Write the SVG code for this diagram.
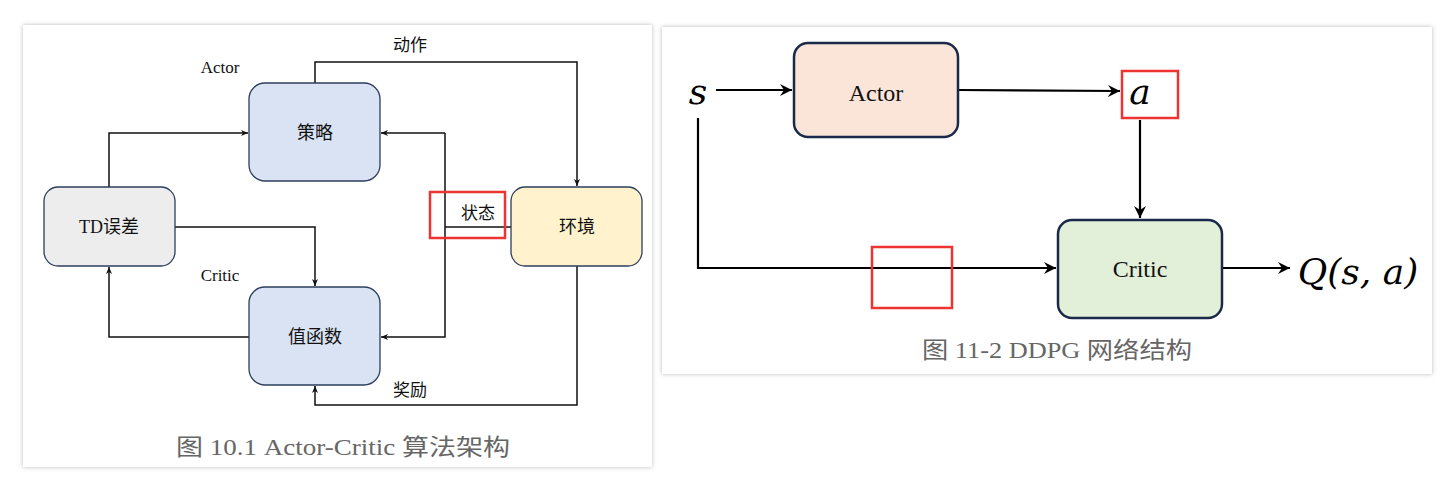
<svg xmlns="http://www.w3.org/2000/svg" width="1440" height="479" viewBox="0 0 1440 479">
<defs>
<marker id="ah" markerWidth="8" markerHeight="8" refX="7" refY="4" orient="auto" markerUnits="userSpaceOnUse"><path d="M0,1 L7,4 L0,7 L2,4 Z" fill="#111"/></marker>
<marker id="ah2" markerWidth="14" markerHeight="14" refX="12" refY="7" orient="auto" markerUnits="userSpaceOnUse"><path d="M0,1 L12,7 L0,13 L4,7 Z" fill="#000"/></marker>
<filter id="sh" x="-5%" y="-5%" width="110%" height="110%"><feDropShadow dx="0" dy="0" stdDeviation="2" flood-color="#888" flood-opacity="0.6"/></filter>
</defs>
<style>
.t{font-family:"Liberation Serif","Noto Sans CJK SC",serif;fill:#111}
.n1{stroke:#2c3e5c;stroke-width:1.3}
.n2{stroke:#1b2a4a;stroke-width:2.5}
.c1{fill:none;stroke:#111;stroke-width:1.5}
.c2{fill:none;stroke:#000;stroke-width:2.2}
.red{fill:none;stroke:#ee3333;stroke-width:2.5}
.cap{font-family:"Liberation Serif","Noto Sans CJK SC",serif;fill:#666;font-size:23px}
.m{font-family:"DejaVu Serif","Liberation Serif",serif;font-style:italic;fill:#000}
</style>
<rect width="1440" height="479" fill="#fff"/>
<rect x="23" y="25" width="629" height="442" fill="#fff" filter="url(#sh)"/>
<rect x="662" y="27" width="770" height="347" fill="#fff" filter="url(#sh)"/>
<g id="connectors">
<polyline class="c1" points="315,83 315,62 577,62 577,186" marker-end="url(#ah)"/>
<polyline class="c1" points="577,266 577,405 315,405 315,386" marker-end="url(#ah)"/>
<line class="c1" x1="511" y1="227" x2="445" y2="227"/>
<polyline class="c1" points="445,133 381,133" marker-end="url(#ah)"/>
<polyline class="c1" points="445,133 445,337 381,337" marker-end="url(#ah)"/>
<polyline class="c1" points="109,187 109,133 248,133" marker-end="url(#ah)"/>
<polyline class="c1" points="175,227 315,227 315,286" marker-end="url(#ah)"/>
<polyline class="c1" points="249,337 109,337 109,267" marker-end="url(#ah)"/>
<line class="c2" x1="716" y1="90" x2="792" y2="90" marker-end="url(#ah2)"/>
<line class="c2" x1="958" y1="90" x2="1120" y2="91" marker-end="url(#ah2)"/>
<line class="c2" x1="1140" y1="120" x2="1140" y2="218" marker-end="url(#ah2)"/>
<polyline class="c2" points="698,118 698,268 1056,268" marker-end="url(#ah2)"/>
<line class="c2" x1="1222" y1="268" x2="1290" y2="268" marker-end="url(#ah2)"/>
</g>
<g id="policy"><rect class="n1" x="249" y="83" width="131" height="98" rx="16" fill="#dae3f3"/><text class="t" x="315" y="139" font-size="18" text-anchor="middle">策略</text></g>
<g id="td"><rect class="n1" x="44" y="187" width="131" height="79" rx="14" fill="#ededed"/><text class="t" x="109" y="233" font-size="18" text-anchor="middle">TD误差</text></g>
<g id="env"><rect class="n1" x="511" y="187" width="131" height="79" rx="14" fill="#fff2cc"/><text class="t" x="577" y="233" font-size="18" text-anchor="middle">环境</text></g>
<g id="value"><rect class="n1" x="249" y="287" width="131" height="98" rx="16" fill="#dae3f3"/><text class="t" x="315" y="343" font-size="18" text-anchor="middle">值函数</text></g>
<g id="labels1">
<text class="t" x="220" y="73" font-size="17" text-anchor="middle">Actor</text>
<text class="t" x="220" y="281" font-size="17" text-anchor="middle">Critic</text>
<text class="t" x="410" y="51" font-size="17" text-anchor="middle">动作</text>
<text class="t" x="410" y="396" font-size="17" text-anchor="middle">奖励</text>
<text class="t" x="478" y="219" font-size="17" text-anchor="middle">状态</text>
</g>
<rect class="red" x="430" y="192" width="75" height="46"/>
<text class="cap" x="176" y="455" textLength="334" lengthAdjust="spacingAndGlyphs">图 10.1 Actor-Critic 算法架构</text>
<g id="actor"><rect class="n2" x="794" y="43" width="164" height="94" rx="14" fill="#fae5d8"/><text class="t" x="876" y="101" font-size="24" text-anchor="middle">Actor</text></g>
<g id="critic"><rect class="n2" x="1058" y="220" width="164" height="98" rx="14" fill="#e2efd9"/><text class="t" x="1140" y="277" font-size="24" text-anchor="middle">Critic</text></g>
<text class="m" x="698" y="104" font-size="36" text-anchor="middle">s</text>
<text class="m" x="1140" y="104" font-size="36" text-anchor="middle">a</text>
<text class="m" x="1358" y="284" font-size="36" text-anchor="middle">Q(s, a)</text>
<rect class="red" x="1122" y="71" width="56" height="47"/>
<rect class="red" x="872" y="247" width="80" height="61"/>
<text class="cap" x="922" y="358" textLength="270" lengthAdjust="spacingAndGlyphs">图 11-2 DDPG 网络结构</text>
</svg>
